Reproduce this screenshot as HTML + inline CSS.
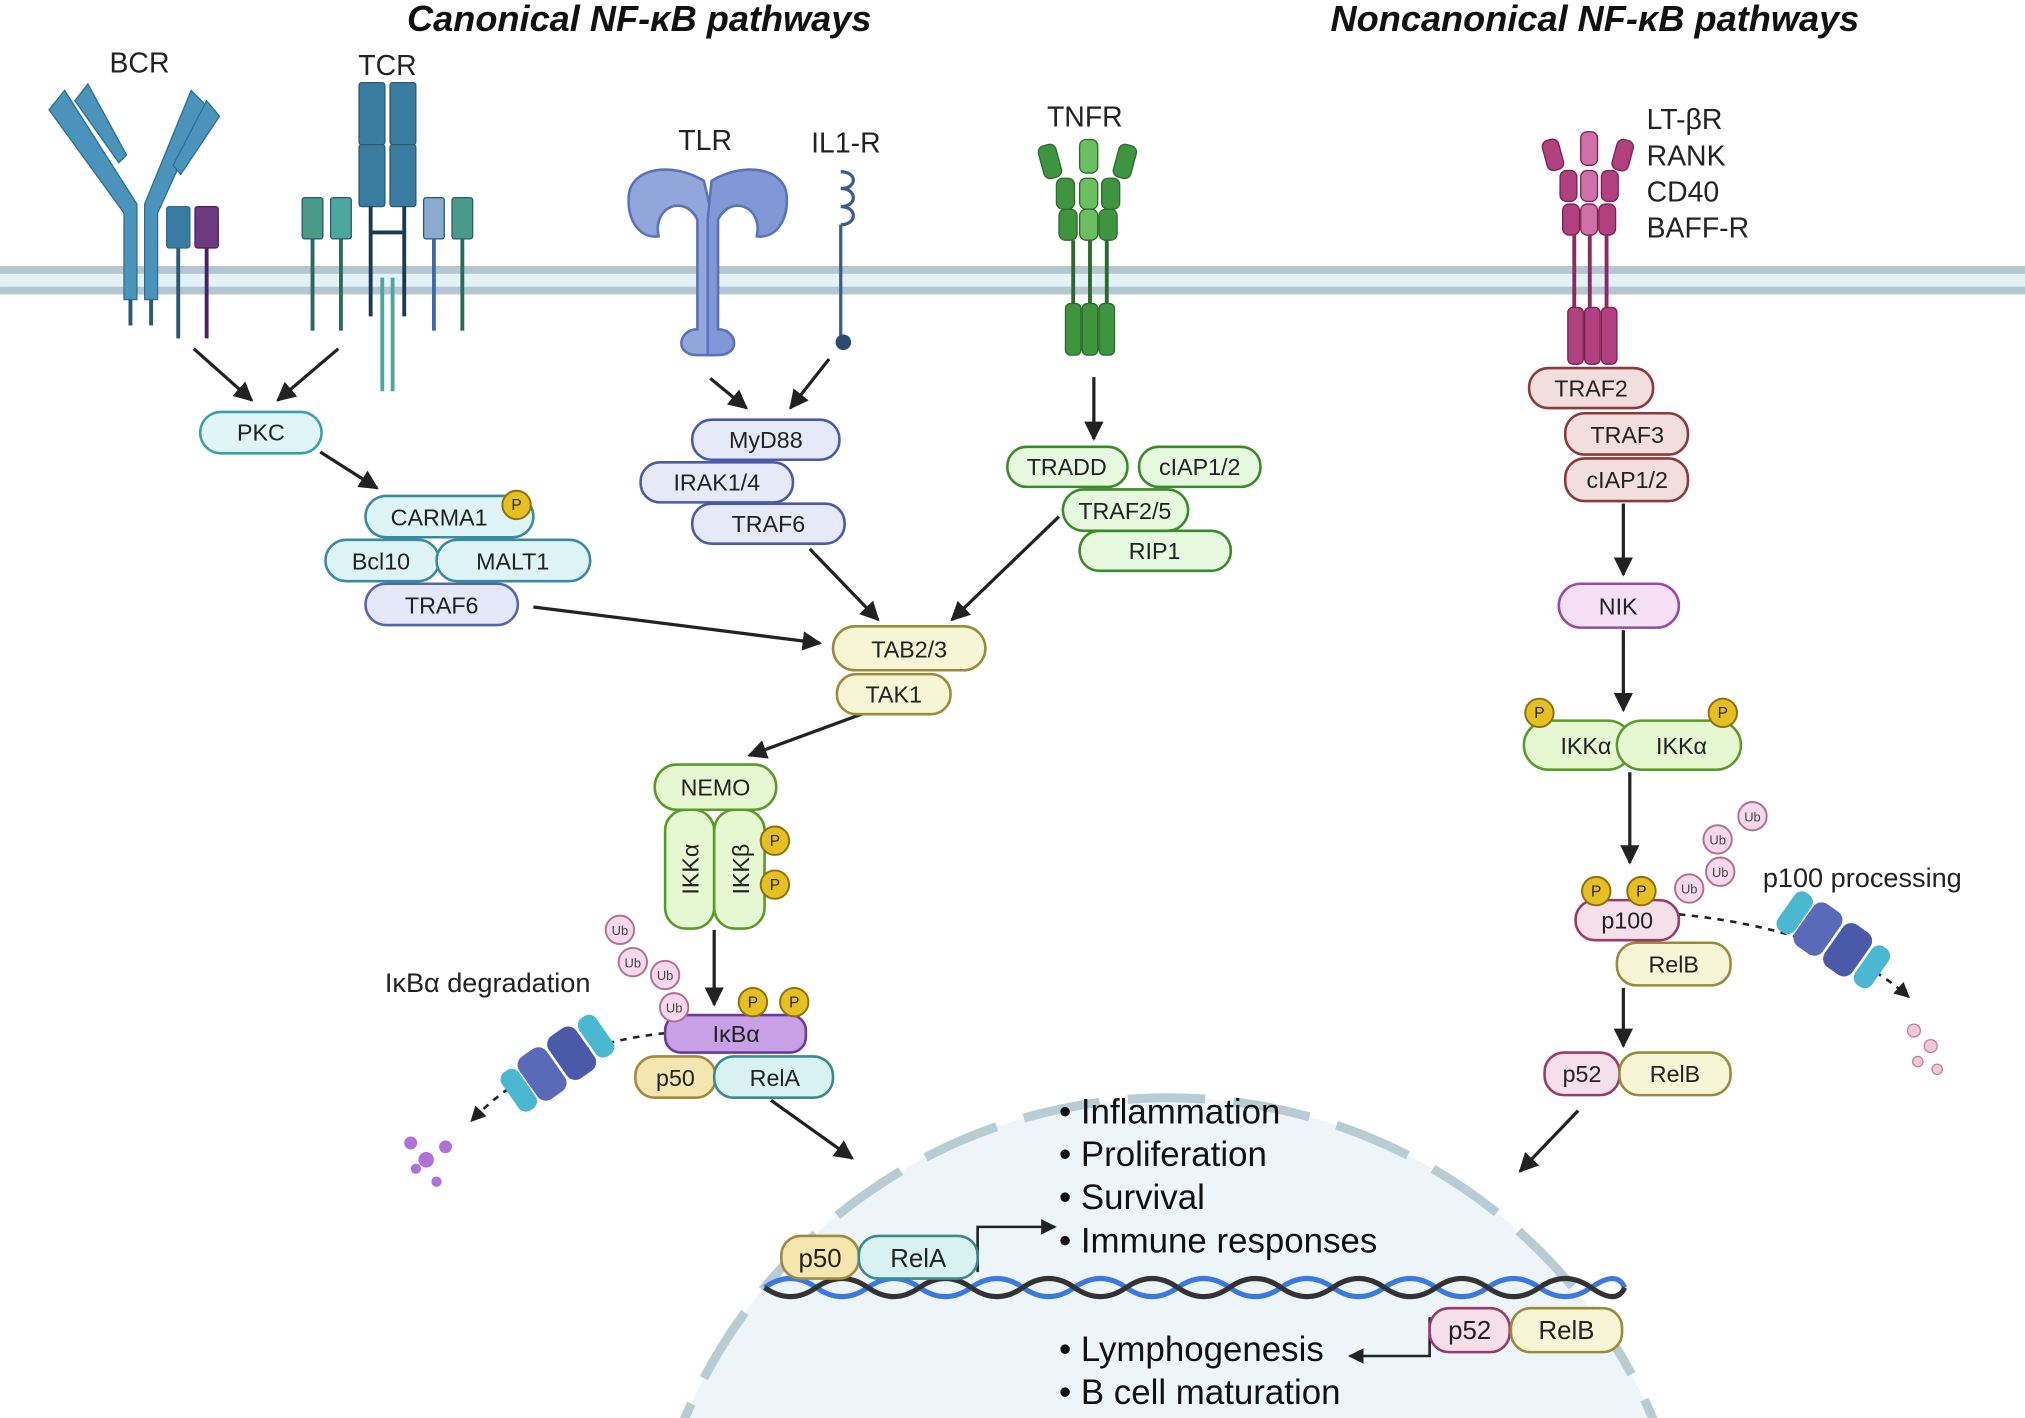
<!DOCTYPE html>
<html><head><meta charset="utf-8"><style>
html,body{margin:0;padding:0;background:#fff;width:2025px;height:1418px;overflow:hidden}
svg{display:block}
text{font-family:"Liberation Sans",sans-serif}
</style></head><body>
<svg width="2025" height="1418" viewBox="0 0 1568 1098" xmlns="http://www.w3.org/2000/svg">
<defs>
<marker id="a" viewBox="0 0 10 10" refX="9" refY="5" markerWidth="6" markerHeight="6" orient="auto"><path d="M0,0L10,5L0,10z" fill="#222"/></marker>
</defs>
<rect width="1568" height="1098" fill="#fff"/>
<!-- nucleus -->
<circle cx="905" cy="1257" r="407" fill="#eef5f9" stroke="#b8ccd6" stroke-width="7" stroke-dasharray="60,22"/>
<!-- membrane -->
<rect x="0" y="208" width="1568" height="18" fill="#e4f2f8"/>
<rect x="0" y="206" width="1568" height="6" fill="#b4c6d0"/>
<rect x="0" y="222" width="1568" height="6" fill="#b4c6d0"/>
<!-- titles -->
<g font-weight="bold" font-style="italic" font-size="28" fill="#111">
<text x="495" y="24" text-anchor="middle">Canonical NF-κB  pathways</text>
<text x="1235" y="24" text-anchor="middle">Noncanonical NF-κB  pathways</text>
</g>
<g font-size="22" fill="#222">
<text x="108" y="56" text-anchor="middle">BCR</text>
<text x="300" y="58" text-anchor="middle">TCR</text>
<text x="546" y="116" text-anchor="middle">TLR</text>
<text x="655" y="118" text-anchor="middle">IL1-R</text>
<text x="840" y="98" text-anchor="middle">TNFR</text>
<text x="1275" y="100">LT-βR</text>
<text x="1275" y="128">RANK</text>
<text x="1275" y="156">CD40</text>
<text x="1275" y="184">BAFF-R</text>
</g>
<!-- BCR -->
<g fill="#4a94bc" stroke="#2e6e90" stroke-width="1">
<polygon points="38,85 50,70 106,158 106,232 96,232 96,165"/>
<polygon points="58,78 68,65 98,120 92,126" />
<polygon points="148,70 160,82 122,165 122,232 112,232 112,158"/>
<polygon points="160,78 170,90 140,135 134,128"/>
<rect x="129" y="160" width="18" height="32" rx="2" fill="#3a7ca0"/>
<rect x="151" y="160" width="18" height="32" rx="2" fill="#6e3a80" stroke="#4a2060"/>
</g>
<g stroke="#2a5a70" stroke-width="3"><line x1="101" y1="232" x2="101" y2="252"/><line x1="117" y1="232" x2="117" y2="252"/><line x1="138" y1="192" x2="138" y2="262"/></g>
<line x1="160" y1="192" x2="160" y2="262" stroke="#4a2060" stroke-width="3"/>
<!-- TCR -->
<g stroke="#2a5a70" stroke-width="1">
<rect x="278" y="64" width="20" height="48" rx="2" fill="#3a7ca0"/><rect x="302" y="64" width="20" height="48" rx="2" fill="#3a7ca0"/>
<rect x="278" y="112" width="20" height="48" rx="2" fill="#3a7ca0"/><rect x="302" y="112" width="20" height="48" rx="2" fill="#3a7ca0"/>
<rect x="234" y="153" width="16" height="32" rx="2" fill="#4a9a88"/><rect x="256" y="153" width="16" height="32" rx="2" fill="#4aa8a0"/>
<rect x="328" y="153" width="16" height="32" rx="2" fill="#8aaad0"/><rect x="350" y="153" width="16" height="32" rx="2" fill="#4a9a88"/>
</g>
<g stroke-width="3"><line x1="242" y1="185" x2="242" y2="256" stroke="#2a6a5a"/><line x1="264" y1="185" x2="264" y2="256" stroke="#2a6a5a"/>
<line x1="336" y1="185" x2="336" y2="256" stroke="#3a6ab0"/><line x1="358" y1="185" x2="358" y2="256" stroke="#2a6a5a"/>
<line x1="287" y1="160" x2="287" y2="245" stroke="#1a3a50"/><line x1="313" y1="160" x2="313" y2="245" stroke="#1a3a50"/>
<line x1="287" y1="180" x2="313" y2="180" stroke="#1a3a50"/>
<line x1="296" y1="215" x2="296" y2="303" stroke="#4aa8a0"/><line x1="304" y1="215" x2="304" y2="303" stroke="#4aa8a0"/></g>
<!-- TLR -->
<g fill="#92a6dc" stroke="#5a72b8" stroke-width="2">
<path d="M545,140 C520,125 490,130 487,150 C485,170 495,185 510,183 C505,160 530,150 540,170 L540,255 C525,255 522,275 540,275 L552,275 L552,170 Z"/>
<path d="M551,140 C576,125 606,130 609,150 C611,170 601,185 586,183 C591,160 566,150 556,170 L556,255 C571,255 574,275 556,275 L548,275 L548,170 Z" fill="#8298d6"/>
</g>
<!-- IL1R -->
<g fill="none" stroke="#3a5a90" stroke-width="2.5">
<path d="M651,133 C664,133 664,146 651,146 C664,146 664,160 651,160 C664,160 664,174 651,174"/>
<line x1="651" y1="174" x2="651" y2="262"/></g>
<circle cx="653" cy="265" r="6" fill="#2a4a70"/>
<!-- TNFR -->
<g fill="#3f9440" stroke="#2a6a2a" stroke-width="1">
<rect x="806" y="112" width="14" height="26" rx="5" transform="rotate(-15 813 125)"/>
<rect x="836" y="108" width="14" height="26" rx="5" fill="#6ac060"/>
<rect x="864" y="112" width="14" height="26" rx="5" transform="rotate(15 871 125)"/>
<rect x="818" y="138" width="14" height="24" rx="5"/><rect x="836" y="138" width="14" height="24" rx="5" fill="#6ac060"/><rect x="853" y="138" width="14" height="24" rx="5"/>
<rect x="820" y="162" width="14" height="24" rx="5"/><rect x="836" y="162" width="14" height="24" rx="5" fill="#6ac060"/><rect x="851" y="162" width="14" height="24" rx="5"/>
<rect x="825" y="235" width="12" height="40" rx="4"/><rect x="838" y="235" width="12" height="40" rx="4"/><rect x="851" y="235" width="12" height="40" rx="4"/>
</g>
<g stroke="#2a6a2a" stroke-width="3"><line x1="831" y1="186" x2="831" y2="235"/><line x1="844" y1="186" x2="844" y2="235"/><line x1="857" y1="186" x2="857" y2="235"/></g>
<!-- LTbR -->
<g fill="#b0407e" stroke="#7a2050" stroke-width="1">
<rect x="1196" y="108" width="13" height="24" rx="5" transform="rotate(-15 1202 120)"/>
<rect x="1224" y="102" width="13" height="26" rx="5" fill="#d070a8"/>
<rect x="1250" y="108" width="13" height="24" rx="5" transform="rotate(15 1256 120)"/>
<rect x="1208" y="132" width="13" height="24" rx="5"/><rect x="1224" y="132" width="13" height="24" rx="5" fill="#d070a8"/><rect x="1240" y="132" width="13" height="24" rx="5"/>
<rect x="1210" y="158" width="13" height="24" rx="5"/><rect x="1224" y="158" width="13" height="24" rx="5" fill="#d070a8"/><rect x="1238" y="158" width="13" height="24" rx="5"/>
<rect x="1214" y="238" width="12" height="44" rx="4"/><rect x="1227" y="238" width="12" height="44" rx="4"/><rect x="1240" y="238" width="12" height="44" rx="4"/>
</g>
<g stroke="#8a2a60" stroke-width="3"><line x1="1219" y1="182" x2="1219" y2="238"/><line x1="1231" y1="182" x2="1231" y2="238"/><line x1="1244" y1="182" x2="1244" y2="238"/></g>
<!-- arrows -->
<g stroke="#222" stroke-width="2.5" fill="none" marker-end="url(#a)">
<line x1="150" y1="270" x2="195" y2="310"/>
<line x1="262" y1="270" x2="215" y2="310"/>
<line x1="550" y1="293" x2="578" y2="316"/>
<line x1="642" y1="278" x2="612" y2="316"/>
<line x1="847" y1="292" x2="847" y2="340"/>
<line x1="248" y1="350" x2="292" y2="378"/>
<line x1="413" y1="470" x2="635" y2="498"/>
<line x1="627" y1="425" x2="680" y2="480"/>
<line x1="820" y1="400" x2="737" y2="480"/>
<line x1="678" y1="549" x2="580" y2="585"/>
<line x1="553" y1="720" x2="553" y2="778"/>
<line x1="597" y1="852" x2="660" y2="897"/>
<line x1="1257" y1="390" x2="1257" y2="445"/>
<line x1="1257" y1="488" x2="1257" y2="550"/>
<line x1="1262" y1="598" x2="1262" y2="668"/>
<line x1="1257" y1="765" x2="1257" y2="810"/>
<line x1="1222" y1="860" x2="1177" y2="907"/>
</g>
<g stroke="#222" stroke-width="2" fill="none" stroke-dasharray="5,5" marker-end="url(#a)">
<path d="M515,800 Q420,810 365,868"/>
<path d="M1300,708 Q1420,720 1478,772"/>
</g>
<g stroke="#222" stroke-width="2" fill="none" marker-end="url(#a)">
<path d="M757,985 L757,950 L817,950"/>
<path d="M1107,1020 L1107,1050 L1045,1050"/>
</g>
<!-- pills -->
<g stroke-width="2" font-size="18" fill="#222">
<g><rect x="155" y="319" width="94" height="32" rx="16" fill="#dff5f7" stroke="#3aa0a8"/><text x="202" y="341" text-anchor="middle" fill="#222" stroke="none">PKC</text></g>
<g><rect x="283" y="384" width="130" height="32" rx="16" fill="#def3f5" stroke="#3a8aa0"/><text x="340" y="407" text-anchor="middle" stroke="none">CARMA1</text></g>
<g><rect x="252" y="418" width="88" height="32" rx="16" fill="#def3f5" stroke="#3a8aa0"/><text x="295" y="441" text-anchor="middle" stroke="none">Bcl10</text></g>
<g><rect x="338" y="418" width="119" height="32" rx="16" fill="#def3f5" stroke="#3a8aa0"/><text x="397" y="441" text-anchor="middle" stroke="none">MALT1</text></g>
<g><rect x="283" y="452" width="118" height="32" rx="16" fill="#e4e8f8" stroke="#5566aa"/><text x="342" y="475" text-anchor="middle" stroke="none">TRAF6</text></g>
<g><rect x="536" y="325" width="114" height="31" rx="15" fill="#e6eaf8" stroke="#4a5aa8"/><text x="593" y="347" text-anchor="middle" stroke="none">MyD88</text></g>
<g><rect x="496" y="358" width="118" height="31" rx="15" fill="#e6eaf8" stroke="#4a5aa8"/><text x="555" y="380" text-anchor="middle" stroke="none">IRAK1/4</text></g>
<g><rect x="536" y="390" width="118" height="31" rx="15" fill="#e6eaf8" stroke="#4a5aa8"/><text x="595" y="412" text-anchor="middle" stroke="none">TRAF6</text></g>
<g><rect x="780" y="346" width="93" height="31" rx="15" fill="#e6f8de" stroke="#3a8a2a"/><text x="826" y="368" text-anchor="middle" stroke="none">TRADD</text></g>
<g><rect x="882" y="346" width="94" height="31" rx="15" fill="#e6f8de" stroke="#3a8a2a"/><text x="929" y="368" text-anchor="middle" stroke="none">cIAP1/2</text></g>
<g><rect x="836" y="411" width="117" height="31" rx="15" fill="#e6f8de" stroke="#3a8a2a"/><text x="894" y="433" text-anchor="middle" stroke="none">RIP1</text></g>
<g><rect x="823" y="379" width="97" height="32" rx="16" fill="#e6f8de" stroke="#3a8a2a"/><text x="871" y="402" text-anchor="middle" stroke="none">TRAF2/5</text></g>
<g><rect x="645" y="485" width="118" height="34" rx="17" fill="#f6f6d6" stroke="#9a8a3a"/><text x="704" y="509" text-anchor="middle" stroke="none">TAB2/3</text></g>
<g><rect x="648" y="522" width="88" height="31" rx="15" fill="#f6f6d6" stroke="#9a8a3a"/><text x="692" y="544" text-anchor="middle" stroke="none">TAK1</text></g>
<g><rect x="507" y="592" width="94" height="35" rx="17" fill="#e6f8d2" stroke="#5a9a2a"/><text x="554" y="616" text-anchor="middle" stroke="none">NEMO</text></g>
<g><rect x="515" y="627" width="38" height="92" rx="16" fill="#e6f8d2" stroke="#5a9a2a"/><rect x="553" y="627" width="39" height="92" rx="16" fill="#e6f8d2" stroke="#5a9a2a"/>
<text transform="translate(541,673) rotate(-90)" text-anchor="middle" stroke="none">IKKα</text><text transform="translate(580,673) rotate(-90)" text-anchor="middle" stroke="none">IKKβ</text></g>
<g><rect x="515" y="786" width="109" height="29" rx="12" fill="#c8a0e6" stroke="#6a3a9a"/><text x="570" y="807" text-anchor="middle" stroke="none">IκBα</text></g>
<g><rect x="492" y="818" width="62" height="32" rx="15" fill="#f5e6b0" stroke="#a08a40"/><text x="523" y="841" text-anchor="middle" stroke="none">p50</text></g>
<g><rect x="553" y="818" width="92" height="32" rx="15" fill="#d8f2f2" stroke="#3a8a8a"/><text x="600" y="841" text-anchor="middle" stroke="none">RelA</text></g>
<g><rect x="1184" y="285" width="96" height="31" rx="15" fill="#f3dede" stroke="#8a3a3a"/><text x="1232" y="307" text-anchor="middle" stroke="none">TRAF2</text></g>
<g><rect x="1212" y="320" width="95" height="32" rx="15" fill="#f3dede" stroke="#8a3a3a"/><text x="1260" y="343" text-anchor="middle" stroke="none">TRAF3</text></g>
<g><rect x="1212" y="355" width="95" height="33" rx="15" fill="#f3dede" stroke="#8a3a3a"/><text x="1260" y="378" text-anchor="middle" stroke="none">cIAP1/2</text></g>
<g><rect x="1207" y="452" width="93" height="34" rx="17" fill="#f5e0f5" stroke="#9a4aa8"/><text x="1253" y="476" text-anchor="middle" stroke="none">NIK</text></g>
<g><rect x="1180" y="558" width="84" height="38" rx="19" fill="#e6f8d2" stroke="#5a9a2a"/><rect x="1252" y="558" width="96" height="38" rx="19" fill="#e6f8d2" stroke="#5a9a2a"/>
<text x="1228" y="584" text-anchor="middle" stroke="none">IKKα</text><text x="1302" y="584" text-anchor="middle" stroke="none">IKKα</text></g>
<g><rect x="1220" y="697" width="80" height="31" rx="15" fill="#f5dfe8" stroke="#9a3a6a"/><text x="1260" y="719" text-anchor="middle" stroke="none">p100</text></g>
<g><rect x="1252" y="730" width="88" height="33" rx="15" fill="#f6f6d6" stroke="#9a8a3a"/><text x="1296" y="753" text-anchor="middle" stroke="none">RelB</text></g>
<g><rect x="1196" y="815" width="58" height="33" rx="15" fill="#f5dfe8" stroke="#9a3a6a"/><text x="1225" y="838" text-anchor="middle" stroke="none">p52</text></g>
<g><rect x="1254" y="815" width="86" height="33" rx="15" fill="#f6f6d6" stroke="#9a8a3a"/><text x="1297" y="838" text-anchor="middle" stroke="none">RelB</text></g>
</g>
<!-- DNA -->
<g fill="none" stroke-width="4">
<path d="M592,997 q20,-14 40,0 t40,0 t40,0 t40,0 t40,0 t40,0 t40,0 t40,0 t40,0 t40,0 t40,0 t40,0 t40,0 t40,0 t40,0 t40,0 t26,0" stroke="#3a7ae0"/>
<path d="M592,997 q20,14 40,0 t40,0 t40,0 t40,0 t40,0 t40,0 t40,0 t40,0 t40,0 t40,0 t40,0 t40,0 t40,0 t40,0 t40,0 t40,0 t26,0" stroke="#333"/>
</g>
<g stroke-width="2" font-size="20" fill="#222">
<rect x="605" y="957" width="60" height="33" rx="15" fill="#f5e6b0" stroke="#a08a40"/><text x="635" y="981" text-anchor="middle">p50</text>
<rect x="665" y="957" width="92" height="33" rx="15" fill="#d8f2f2" stroke="#3a8a8a"/><text x="711" y="981" text-anchor="middle">RelA</text>
<rect x="1107" y="1013" width="62" height="34" rx="15" fill="#f5dfe8" stroke="#9a3a6a"/><text x="1138" y="1037" text-anchor="middle">p52</text>
<rect x="1170" y="1013" width="86" height="34" rx="15" fill="#f6f6d6" stroke="#9a8a3a"/><text x="1213" y="1037" text-anchor="middle">RelB</text>
</g>
<g font-size="27" fill="#111">
<text x="820" y="870">• Inflammation</text>
<text x="820" y="903">• Proliferation</text>
<text x="820" y="936">• Survival</text>
<text x="820" y="970">• Immune responses</text>
<text x="820" y="1054">• Lymphogenesis</text>
<text x="820" y="1087">• B cell maturation</text>
</g>
<g font-size="21" fill="#222">
<text x="298" y="768">IκBα degradation</text>
<text x="1365" y="687">p100 processing</text>
</g>
<!-- P circles -->
<g fill="#e6c020" stroke="#8a7010" stroke-width="1.5">
<circle cx="400" cy="391" r="11"/><circle cx="600" cy="651" r="11"/><circle cx="600" cy="685" r="11"/>
<circle cx="583" cy="776" r="11"/><circle cx="615" cy="776" r="11"/>
<circle cx="1192" cy="552" r="11"/><circle cx="1334" cy="552" r="11"/>
<circle cx="1236" cy="690" r="11"/><circle cx="1271" cy="690" r="11"/>
</g>
<g font-size="12" fill="#222" text-anchor="middle">
<text x="400" y="395">P</text><text x="600" y="655">P</text><text x="600" y="689">P</text><text x="583" y="780">P</text><text x="615" y="780">P</text>
<text x="1192" y="556">P</text><text x="1334" y="556">P</text><text x="1236" y="694">P</text><text x="1271" y="694">P</text>
</g>
<!-- Ub -->
<g fill="#f8d8ec" stroke="#b07090" stroke-width="1.5">
<circle cx="480" cy="720" r="11"/><circle cx="490" cy="745" r="11"/><circle cx="515" cy="755" r="11"/><circle cx="522" cy="780" r="11"/>
<circle cx="1308" cy="688" r="11"/><circle cx="1332" cy="675" r="11"/><circle cx="1330" cy="650" r="11"/><circle cx="1357" cy="632" r="11"/>
</g>
<g font-size="10" fill="#444" text-anchor="middle">
<text x="480" y="724">Ub</text><text x="490" y="749">Ub</text><text x="515" y="759">Ub</text><text x="522" y="784">Ub</text>
<text x="1308" y="692">Ub</text><text x="1332" y="679">Ub</text><text x="1330" y="654">Ub</text><text x="1357" y="636">Ub</text>
</g>
<!-- proteasomes -->
<g transform="translate(432,823) rotate(-35)">
<rect x="-45" y="-18" width="16" height="36" rx="7" fill="#4ab8d0"/><rect x="-28" y="-20" width="26" height="40" rx="8" fill="#5a6ab8"/>
<rect x="0" y="-20" width="26" height="40" rx="8" fill="#4a5aa8"/><rect x="28" y="-18" width="16" height="36" rx="7" fill="#4ab8d0"/>
</g>
<g transform="translate(1420,728) rotate(35)">
<rect x="-45" y="-18" width="16" height="36" rx="7" fill="#4ab8d0"/><rect x="-28" y="-20" width="26" height="40" rx="8" fill="#5a6ab8"/>
<rect x="0" y="-20" width="26" height="40" rx="8" fill="#4a5aa8"/><rect x="28" y="-18" width="16" height="36" rx="7" fill="#4ab8d0"/>
</g>
<g fill="#b070d8"><circle cx="318" cy="885" r="5"/><circle cx="330" cy="898" r="6"/><circle cx="345" cy="888" r="5"/><circle cx="322" cy="905" r="4"/><circle cx="338" cy="915" r="4"/></g>
<g fill="#f0c8d8" stroke="#c08098"><circle cx="1482" cy="798" r="5"/><circle cx="1495" cy="810" r="5"/><circle cx="1485" cy="822" r="4"/><circle cx="1500" cy="828" r="4"/></g>
</svg>
</body></html>
